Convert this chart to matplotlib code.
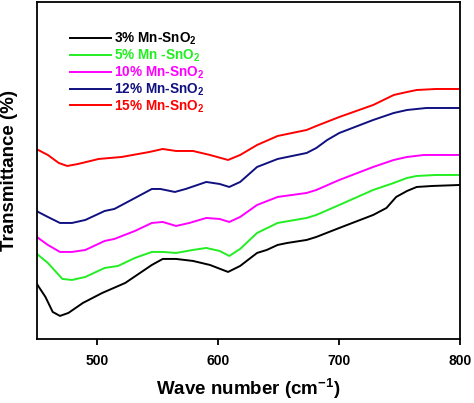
import matplotlib
matplotlib.use("Agg")
import matplotlib.pyplot as plt

plt.rcParams['font.family'] = ['Liberation Sans', 'DejaVu Sans']
plt.rcParams['font.weight'] = 'bold'
plt.rcParams['mathtext.fontset'] = 'custom'
plt.rcParams['mathtext.rm'] = 'Liberation Sans:bold'
plt.rcParams['mathtext.bf'] = 'Liberation Sans:bold'

# FTIR spectra (arbitrary transmittance units)
wn_3 = [450, 451, 457, 463, 469, 476, 488, 504, 523, 545, 554, 565, 579, 593, 608, 618,
        632, 640, 649, 657, 673, 681, 700, 728, 739, 747, 756, 764, 777, 800]
t_3 = [55, 53, 42, 27, 23, 26, 36, 46, 56, 74, 80, 80, 78, 74, 67, 73,
       86, 89, 94, 96, 99, 102, 111, 124, 131, 142, 148, 152, 153, 154]

wn_5 = [450, 451, 459, 471, 479, 490, 506, 517, 531, 545, 554, 565, 579, 590, 601, 609, 618,
        632, 649, 673, 681, 700, 728, 745, 756, 764, 780, 800]
t_5 = [85, 84, 76, 60, 59, 62, 71, 73, 81, 87, 87, 86, 89, 91, 88, 83, 90,
       106, 116, 121, 124, 134, 149, 156, 161, 163, 164, 164]

wn_10 = [450, 451, 459, 469, 479, 490, 506, 514, 531, 545, 554, 565, 576, 590, 601, 609, 618,
         632, 649, 673, 681, 700, 728, 745, 756, 770, 800]
t_10 = [102, 101, 94, 87, 87, 89, 98, 100, 108, 116, 117, 113, 116, 121, 120, 117, 122,
        134, 142, 146, 149, 159, 172, 179, 182, 184, 184]

wn_12 = [450, 451, 459, 469, 479, 490, 506, 514, 528, 545, 552, 564, 573, 590, 601, 609, 618,
         632, 649, 673, 681, 690, 700, 728, 745, 756, 772, 800]
t_12 = [128, 127, 122, 116, 116, 119, 128, 130, 139, 150, 150, 147, 150, 157, 155, 152, 157,
        172, 180, 186, 191, 199, 206, 219, 226, 229, 231, 231]

wn_15 = [450, 451, 459, 468, 475, 484, 501, 520, 543, 554, 565, 579, 593, 608, 618, 632, 649,
         673, 681, 700, 728, 745, 756, 764, 780, 800]
t_15 = [189, 189, 184, 176, 173, 175, 180, 182, 187, 190, 188, 188, 184, 179, 184, 194, 203,
        209, 213, 222, 234, 244, 247, 249, 250, 250]

labels = [r'3% Mn-SnO$_\mathbf{2}$', r'5% Mn -SnO$_\mathbf{2}$', r'10% Mn-SnO$_\mathbf{2}$',
          r'12% Mn-SnO$_\mathbf{2}$', r'15% Mn-SnO$_\mathbf{2}$']
colors = ['black', '#22ee22', '#ff00ff', '#101080', '#ff0000']
series = [(wn_3, t_3), (wn_5, t_5), (wn_10, t_10), (wn_12, t_12), (wn_15, t_15)]

fig = plt.figure(figsize=(4.74, 4.03), dpi=100)
ax = fig.add_axes([0.078, 0.159, 0.893, 0.836])

for (x, y), c, lab in zip(series, colors, labels):
    ax.plot(x, y, color=c, linewidth=1.4, label=lab, solid_joinstyle='round')

ax.set_xlim(450, 800)
ax.set_ylim(0, 337)
ax.set_xticks([500, 600, 700, 800])
ax.set_yticks([])
ax.tick_params(axis='x', direction='out', length=4, width=1.3, labelsize=10, pad=7)
for lab in ax.get_xticklabels():
    lab.set_fontweight('bold')
for sp in ax.spines.values():
    sp.set_linewidth(1.3)

ax.set_xlabel(r'Wave number (cm$^\mathbf{-1}$)', fontsize=13.5, fontweight='bold', labelpad=6)
ax.set_ylabel('Transmittance (%)', fontsize=13.5, fontweight='bold')
ax.yaxis.set_label_coords(-0.045, 0.5)

leg = ax.legend(loc='upper left', bbox_to_anchor=(0.05, 0.952), frameon=False,
                fontsize=9.8, handlelength=3.0, handletextpad=0.2, labelspacing=0.04)
for txt, c in zip(leg.get_texts(), colors):
    txt.set_color(c)
    txt.set_fontweight('bold')

fig.savefig('out.png', dpi=100)
